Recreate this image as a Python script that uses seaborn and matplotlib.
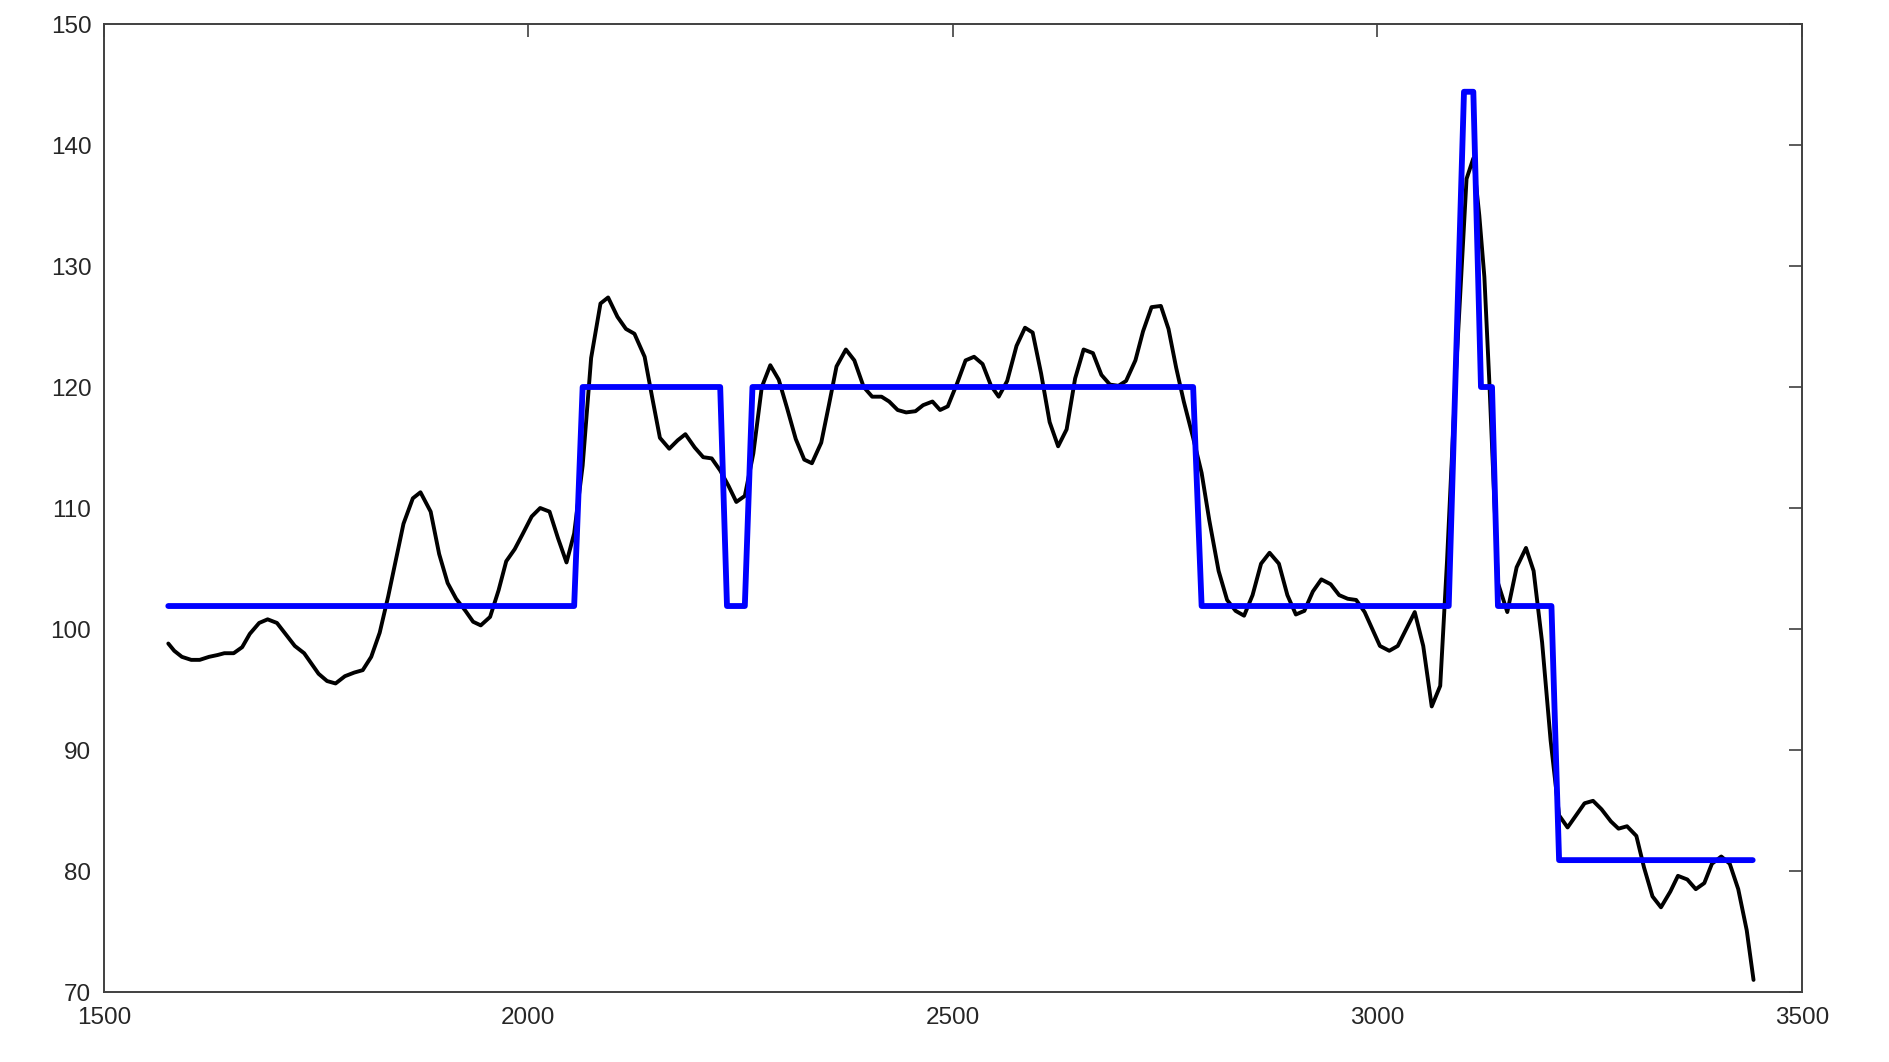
import matplotlib
matplotlib.use("Agg")
import matplotlib.pyplot as plt
import seaborn as sns
import pandas as pd

# measured signal (black)
signal_x = [1576, 1583, 1592, 1603, 1613, 1624, 1634, 1642, 1653, 1663, 1672, 1683, 1693, 1704,
            1714, 1725, 1736, 1743, 1753, 1763, 1773, 1784, 1795, 1805, 1815, 1825, 1835, 1844,
            1853, 1864, 1873, 1885, 1895, 1905, 1915, 1926, 1935, 1944, 1955, 1965, 1974, 1984,
            1993, 2004, 2014, 2025, 2035, 2045, 2054, 2064, 2074, 2085, 2094, 2105, 2115, 2125,
            2137, 2146, 2155, 2166, 2176, 2185, 2196, 2206, 2216, 2226, 2236, 2245, 2255, 2265,
            2275, 2285, 2295, 2305, 2315, 2325, 2334, 2345, 2354, 2363, 2374, 2384, 2395, 2405,
            2416, 2425, 2435, 2445, 2456, 2465, 2476, 2485, 2494, 2505, 2515, 2525, 2535, 2545,
            2554, 2564, 2575, 2585, 2594, 2604, 2614, 2624, 2634, 2644, 2654, 2665, 2675, 2685,
            2695, 2704, 2715, 2724, 2734, 2745, 2754, 2763, 2772, 2783, 2793, 2802, 2813, 2823,
            2833, 2843, 2853, 2863, 2873, 2884, 2894, 2904, 2914, 2924, 2934, 2945, 2955, 2965,
            2975, 2985, 2994, 3003, 3014, 3024, 3034, 3044, 3054, 3064, 3074, 3082, 3092, 3100,
            3105, 3113, 3120, 3126, 3132, 3136, 3142, 3153, 3164, 3175, 3184, 3194, 3204, 3214,
            3224, 3234, 3244, 3254, 3264, 3275, 3284, 3294, 3305, 3314, 3324, 3334, 3345, 3354,
            3365, 3375, 3385, 3394, 3405, 3415, 3425, 3435, 3443]
signal_y = [98.8, 98.2, 97.7, 97.45, 97.45, 97.7, 97.85, 98.0, 98.0, 98.5, 99.6, 100.5, 100.8, 100.5,
            99.6, 98.6, 98.0, 97.3, 96.3, 95.7, 95.5, 96.1, 96.4, 96.6, 97.7, 99.7, 102.7, 105.7,
            108.7, 110.8, 111.3, 109.7, 106.2, 103.8, 102.5, 101.5, 100.6, 100.3, 101.0, 103.2, 105.6, 106.6,
            107.8, 109.3, 110.0, 109.7, 107.5, 105.5, 107.9, 113.5, 122.4, 126.9, 127.4, 125.8, 124.8, 124.4,
            122.5, 119.1, 115.8, 114.9, 115.6, 116.1, 115.0, 114.2, 114.1, 113.1, 111.8, 110.5, 111.0, 114.5,
            120.0, 121.8, 120.6, 118.2, 115.7, 114.0, 113.7, 115.4, 118.5, 121.7, 123.1, 122.2, 120.0, 119.2,
            119.2, 118.8, 118.1, 117.9, 118.0, 118.5, 118.8, 118.1, 118.4, 120.3, 122.2, 122.5, 121.9, 120.1,
            119.2, 120.5, 123.4, 124.9, 124.5, 121.1, 117.1, 115.1, 116.5, 120.7, 123.1, 122.8, 121.0, 120.2,
            120.1, 120.5, 122.2, 124.6, 126.6, 126.7, 124.8, 121.6, 118.8, 115.8, 112.9, 109.0, 104.8, 102.4,
            101.5, 101.1, 102.8, 105.4, 106.3, 105.4, 102.8, 101.2, 101.5, 103.1, 104.1, 103.7, 102.8, 102.5,
            102.4, 101.4, 100.0, 98.6, 98.2, 98.6, 100.0, 101.4, 98.6, 93.6, 95.3, 105.6, 120.5, 130.8,
            137.2, 138.9, 134.2, 129.1, 120.2, 113.5, 103.8, 101.4, 105.1, 106.7, 104.8, 98.9, 90.8, 84.6,
            83.6, 84.6, 85.6, 85.8, 85.1, 84.1, 83.5, 83.7, 82.9, 80.3, 77.9, 77.0, 78.3, 79.6,
            79.3, 78.5, 79.0, 80.6, 81.2, 80.6, 78.5, 75.1, 71.0]

# piecewise constant fit (blue)
fit_x = [1576, 2054, 2064, 2226, 2234, 2255, 2264, 2783, 2793, 3084, 3102, 3113, 3122,
         3135, 3142, 3205, 3214, 3442]
fit_y = [101.9, 101.9, 120.0, 120.0, 101.9, 101.9, 120.0, 120.0, 101.9, 101.9, 144.4, 144.4, 120.0,
         120.0, 101.9, 101.9, 80.9, 80.9]

x_ticks = [1500, 2000, 2500, 3000, 3500]
y_ticks = [70, 80, 90, 100, 110, 120, 130, 140, 150]

sns.set_style("white")
plt.rcParams['font.family'] = ['Liberation Sans', 'DejaVu Sans']

signal_df = pd.DataFrame({'x': signal_x, 'y': signal_y})
fit_df = pd.DataFrame({'x': fit_x, 'y': fit_y})

fig = plt.figure(figsize=(18.9, 10.62), dpi=100)
ax = fig.add_axes([0.0549, 0.0659, 0.8985, 0.9115])

sns.lineplot(data=signal_df, x='x', y='y', sort=False, estimator=None, color='black', lw=2.8,
             solid_joinstyle='round', solid_capstyle='round', ax=ax)
sns.lineplot(data=fit_df, x='x', y='y', sort=False, estimator=None, color='#0000ff', lw=4.2,
             solid_joinstyle='round', solid_capstyle='round', ax=ax)

ax.set_xlim(1500, 3500)
ax.set_ylim(70, 150)
ax.set_xticks(x_ticks)
ax.set_yticks(y_ticks)
ax.set_xlabel('')
ax.set_ylabel('')

for side in ['left', 'right', 'top', 'bottom']:
    ax.spines[side].set_visible(True)
    ax.spines[side].set_color('#404040')
    ax.spines[side].set_linewidth(1.4)

ax.tick_params(direction='in', length=9.5, width=1.2, color='#404040',
               labelsize=17.5, labelcolor='#262626', top=True, right=True)
ax.tick_params(axis='x', pad=11)
ax.tick_params(axis='y', pad=9)

fig.savefig('out.png', dpi=100)
